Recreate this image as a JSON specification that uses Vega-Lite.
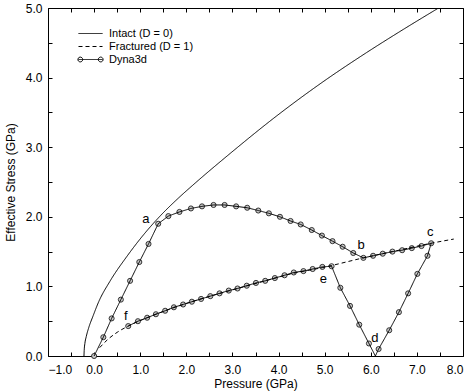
{
  "$schema": "https://vega.github.io/schema/vega-lite/v6.json",
  "autosize": "none",
  "width": 415,
  "height": 348,
  "padding": {"left": 48, "top": 8, "right": 11, "bottom": 35},
  "background": "white",
  "config": {
    "view": {"stroke": "#000", "strokeWidth": 1},
    "font": "Liberation Sans",
    "axis": {"grid": false, "domainColor": "#000", "tickColor": "#000", "labelColor": "#000", "titleColor": "#000", "labelFont": "Liberation Sans", "titleFont": "Liberation Sans", "titleFontWeight": "normal", "labelFontSize": 12, "titleFontSize": 12, "tickSize": -4}
  },
  "datasets": {
    "curves": [
      {"series": "Intact (D = 0)", "order": 1, "x": -0.22, "y": 0.0},
      {"series": "Intact (D = 0)", "order": 2, "x": -0.215, "y": 0.08},
      {"series": "Intact (D = 0)", "order": 3, "x": -0.2, "y": 0.18},
      {"series": "Intact (D = 0)", "order": 4, "x": -0.17, "y": 0.28},
      {"series": "Intact (D = 0)", "order": 5, "x": -0.12, "y": 0.4},
      {"series": "Intact (D = 0)", "order": 6, "x": -0.02, "y": 0.58},
      {"series": "Intact (D = 0)", "order": 7, "x": 0.1, "y": 0.78},
      {"series": "Intact (D = 0)", "order": 8, "x": 0.34, "y": 1.07},
      {"series": "Intact (D = 0)", "order": 9, "x": 0.71, "y": 1.43},
      {"series": "Intact (D = 0)", "order": 10, "x": 1.07, "y": 1.74},
      {"series": "Intact (D = 0)", "order": 11, "x": 1.43, "y": 2.01},
      {"series": "Intact (D = 0)", "order": 12, "x": 1.83, "y": 2.27},
      {"series": "Intact (D = 0)", "order": 13, "x": 2.15, "y": 2.46},
      {"series": "Intact (D = 0)", "order": 14, "x": 2.95, "y": 2.91},
      {"series": "Intact (D = 0)", "order": 15, "x": 3.96, "y": 3.45},
      {"series": "Intact (D = 0)", "order": 16, "x": 4.9, "y": 3.91},
      {"series": "Intact (D = 0)", "order": 17, "x": 5.91, "y": 4.36},
      {"series": "Intact (D = 0)", "order": 18, "x": 6.7, "y": 4.69},
      {"series": "Intact (D = 0)", "order": 19, "x": 7.47, "y": 5.0},
      {"series": "Fractured (D = 1)", "order": 1, "x": 0.12, "y": 0.12},
      {"series": "Fractured (D = 1)", "order": 2, "x": 0.3, "y": 0.24},
      {"series": "Fractured (D = 1)", "order": 3, "x": 0.5, "y": 0.34},
      {"series": "Fractured (D = 1)", "order": 4, "x": 0.74, "y": 0.43},
      {"series": "Fractured (D = 1)", "order": 5, "x": 1.15, "y": 0.55},
      {"series": "Fractured (D = 1)", "order": 6, "x": 1.54, "y": 0.65},
      {"series": "Fractured (D = 1)", "order": 7, "x": 1.93, "y": 0.74},
      {"series": "Fractured (D = 1)", "order": 8, "x": 2.52, "y": 0.86},
      {"series": "Fractured (D = 1)", "order": 9, "x": 3.11, "y": 0.97},
      {"series": "Fractured (D = 1)", "order": 10, "x": 3.71, "y": 1.08},
      {"series": "Fractured (D = 1)", "order": 11, "x": 4.33, "y": 1.19},
      {"series": "Fractured (D = 1)", "order": 12, "x": 4.95, "y": 1.27},
      {"series": "Fractured (D = 1)", "order": 13, "x": 5.15, "y": 1.3},
      {"series": "Fractured (D = 1)", "order": 14, "x": 5.84, "y": 1.41},
      {"series": "Fractured (D = 1)", "order": 15, "x": 6.47, "y": 1.5},
      {"series": "Fractured (D = 1)", "order": 16, "x": 7.31, "y": 1.62},
      {"series": "Fractured (D = 1)", "order": 17, "x": 7.8, "y": 1.68}
    ],
    "dyna": [
      {"series": "Dyna3d", "order": 1, "x": 0.0, "y": 0.0, "sampled": true},
      {"series": "Dyna3d", "order": 2, "x": 0.2, "y": 0.27, "sampled": true},
      {"series": "Dyna3d", "order": 3, "x": 0.38, "y": 0.54, "sampled": true},
      {"series": "Dyna3d", "order": 4, "x": 0.58, "y": 0.81, "sampled": true},
      {"series": "Dyna3d", "order": 5, "x": 0.78, "y": 1.08, "sampled": true},
      {"series": "Dyna3d", "order": 6, "x": 0.98, "y": 1.35, "sampled": true},
      {"series": "Dyna3d", "order": 7, "x": 1.18, "y": 1.61, "sampled": true},
      {"series": "Dyna3d", "order": 8, "x": 1.39, "y": 1.9, "sampled": true},
      {"series": "Dyna3d", "order": 9, "x": 1.61, "y": 2.01, "sampled": true},
      {"series": "Dyna3d", "order": 10, "x": 1.85, "y": 2.07, "sampled": true},
      {"series": "Dyna3d", "order": 11, "x": 2.1, "y": 2.12, "sampled": true},
      {"series": "Dyna3d", "order": 12, "x": 2.34, "y": 2.15, "sampled": true},
      {"series": "Dyna3d", "order": 13, "x": 2.59, "y": 2.17, "sampled": true},
      {"series": "Dyna3d", "order": 14, "x": 2.83, "y": 2.17, "sampled": true},
      {"series": "Dyna3d", "order": 15, "x": 3.08, "y": 2.15, "sampled": true},
      {"series": "Dyna3d", "order": 16, "x": 3.32, "y": 2.13, "sampled": true},
      {"series": "Dyna3d", "order": 17, "x": 3.56, "y": 2.09, "sampled": true},
      {"series": "Dyna3d", "order": 18, "x": 3.79, "y": 2.05, "sampled": true},
      {"series": "Dyna3d", "order": 19, "x": 4.03, "y": 2.0, "sampled": true},
      {"series": "Dyna3d", "order": 20, "x": 4.26, "y": 1.94, "sampled": true},
      {"series": "Dyna3d", "order": 21, "x": 4.48, "y": 1.89, "sampled": true},
      {"series": "Dyna3d", "order": 22, "x": 4.72, "y": 1.81, "sampled": true},
      {"series": "Dyna3d", "order": 23, "x": 4.94, "y": 1.73, "sampled": true},
      {"series": "Dyna3d", "order": 24, "x": 5.17, "y": 1.65, "sampled": true},
      {"series": "Dyna3d", "order": 25, "x": 5.39, "y": 1.57, "sampled": true},
      {"series": "Dyna3d", "order": 26, "x": 5.62, "y": 1.48, "sampled": true},
      {"series": "Dyna3d", "order": 27, "x": 5.84, "y": 1.41, "sampled": true},
      {"series": "Dyna3d", "order": 28, "x": 6.05, "y": 1.44, "sampled": true},
      {"series": "Dyna3d", "order": 29, "x": 6.26, "y": 1.47, "sampled": true},
      {"series": "Dyna3d", "order": 30, "x": 6.47, "y": 1.5, "sampled": true},
      {"series": "Dyna3d", "order": 31, "x": 6.68, "y": 1.52, "sampled": true},
      {"series": "Dyna3d", "order": 32, "x": 6.89, "y": 1.55, "sampled": true},
      {"series": "Dyna3d", "order": 33, "x": 7.1, "y": 1.58, "sampled": true},
      {"series": "Dyna3d", "order": 34, "x": 7.31, "y": 1.62, "sampled": true},
      {"series": "Dyna3d", "order": 35, "x": 7.23, "y": 1.44, "sampled": true},
      {"series": "Dyna3d", "order": 36, "x": 7.01, "y": 1.18, "sampled": true},
      {"series": "Dyna3d", "order": 37, "x": 6.81, "y": 0.9, "sampled": true},
      {"series": "Dyna3d", "order": 38, "x": 6.61, "y": 0.63, "sampled": true},
      {"series": "Dyna3d", "order": 39, "x": 6.4, "y": 0.37, "sampled": true},
      {"series": "Dyna3d", "order": 40, "x": 6.17, "y": 0.1, "sampled": true},
      {"series": "Dyna3d", "order": 41, "x": 6.1, "y": 0.0, "sampled": false},
      {"series": "Dyna3d", "order": 42, "x": 5.96, "y": 0.18, "sampled": true},
      {"series": "Dyna3d", "order": 43, "x": 5.75, "y": 0.45, "sampled": true},
      {"series": "Dyna3d", "order": 44, "x": 5.55, "y": 0.72, "sampled": true},
      {"series": "Dyna3d", "order": 45, "x": 5.34, "y": 0.98, "sampled": true},
      {"series": "Dyna3d", "order": 46, "x": 5.15, "y": 1.29, "sampled": true},
      {"series": "Dyna3d", "order": 47, "x": 4.95, "y": 1.28, "sampled": true},
      {"series": "Dyna3d", "order": 48, "x": 4.74, "y": 1.25, "sampled": true},
      {"series": "Dyna3d", "order": 49, "x": 4.54, "y": 1.22, "sampled": true},
      {"series": "Dyna3d", "order": 50, "x": 4.33, "y": 1.2, "sampled": true},
      {"series": "Dyna3d", "order": 51, "x": 4.13, "y": 1.16, "sampled": true},
      {"series": "Dyna3d", "order": 52, "x": 3.92, "y": 1.12, "sampled": true},
      {"series": "Dyna3d", "order": 53, "x": 3.71, "y": 1.08, "sampled": true},
      {"series": "Dyna3d", "order": 54, "x": 3.51, "y": 1.05, "sampled": true},
      {"series": "Dyna3d", "order": 55, "x": 3.31, "y": 1.01, "sampled": true},
      {"series": "Dyna3d", "order": 56, "x": 3.11, "y": 0.97, "sampled": true},
      {"series": "Dyna3d", "order": 57, "x": 2.92, "y": 0.94, "sampled": true},
      {"series": "Dyna3d", "order": 58, "x": 2.72, "y": 0.9, "sampled": true},
      {"series": "Dyna3d", "order": 59, "x": 2.52, "y": 0.86, "sampled": true},
      {"series": "Dyna3d", "order": 60, "x": 2.32, "y": 0.82, "sampled": true},
      {"series": "Dyna3d", "order": 61, "x": 2.12, "y": 0.78, "sampled": true},
      {"series": "Dyna3d", "order": 62, "x": 1.93, "y": 0.74, "sampled": true},
      {"series": "Dyna3d", "order": 63, "x": 1.73, "y": 0.7, "sampled": true},
      {"series": "Dyna3d", "order": 64, "x": 1.54, "y": 0.65, "sampled": true},
      {"series": "Dyna3d", "order": 65, "x": 1.34, "y": 0.6, "sampled": true},
      {"series": "Dyna3d", "order": 66, "x": 1.15, "y": 0.55, "sampled": true},
      {"series": "Dyna3d", "order": 67, "x": 0.95, "y": 0.5, "sampled": true},
      {"series": "Dyna3d", "order": 68, "x": 0.74, "y": 0.43, "sampled": true}
    ],
    "labels": [
      {"label": "a", "x": 1.12, "y": 1.97},
      {"label": "b", "x": 5.79, "y": 1.6},
      {"label": "c", "x": 7.29, "y": 1.78},
      {"label": "d", "x": 6.09, "y": 0.26},
      {"label": "e", "x": 4.97, "y": 1.1},
      {"label": "f", "x": 0.69, "y": 0.57}
    ]
  },
  "layer": [
    {
      "data": {"name": "dyna"},
      "transform": [{"filter": "datum.sampled"}],
      "mark": {"type": "point", "shape": "circle", "size": 26, "filled": true, "fill": "#c8c8c8", "stroke": "#222", "strokeWidth": 0.9, "opacity": 1},
      "encoding": {
        "x": {"field": "x", "type": "quantitative", "axis": null},
        "y": {"field": "y", "type": "quantitative", "axis": null}
      }
    },
    {
      "data": {"name": "curves"},
      "mark": {"type": "line", "interpolate": "monotone", "color": "#000", "strokeWidth": 1, "clip": true},
      "encoding": {
        "x": {"field": "x", "type": "quantitative", "scale": {"domain": [-1, 8], "nice": false, "zero": false},
          "axis": {"orient": "bottom", "title": "Pressure (GPa)", "values": [-1, -0.5, 0, 0.5, 1, 1.5, 2, 2.5, 3, 3.5, 4, 4.5, 5, 5.5, 6, 6.5, 7, 7.5, 8], "labelExpr": "datum.value % 1 === 0 ? format(datum.value, '.1f') : ''", "labelPadding": 12, "titlePadding": 3, "domain": false}},
        "y": {"field": "y", "type": "quantitative", "scale": {"domain": [0, 5], "nice": false},
          "axis": {"orient": "left", "title": "Effective Stress (GPa)", "values": [0, 0.5, 1, 1.5, 2, 2.5, 3, 3.5, 4, 4.5, 5], "labelExpr": "datum.value % 1 === 0 ? format(datum.value, '.1f') : ''", "labelPadding": 10, "titlePadding": 8, "domain": false}},
        "strokeDash": {"field": "series", "type": "nominal",
          "scale": {"domain": ["Intact (D = 0)", "Fractured (D = 1)", "Dyna3d"], "range": [[1, 0], [4, 3], [1, 0]]},
          "legend": {"orient": "none", "legendX": 36, "legendY": 19, "title": null, "symbolType": "M-2,0L2,0", "symbolSize": 144, "symbolStrokeColor": "#000", "symbolStrokeWidth": 1, "labelFont": "Liberation Sans", "labelFontSize": 11, "labelColor": "#000", "labelOffset": 12, "rowPadding": 1,
            "encode": {"symbols": {"update": {"shape": {"signal": "datum.value === 'Dyna3d' ? 'M-2,0L2,0M-1.3,0A0.4,0.4 0 1,0 -2.1,0A0.4,0.4 0 1,0 -1.3,0M2.1,0A0.4,0.4 0 1,0 1.3,0A0.4,0.4 0 1,0 2.1,0' : 'M-2,0L2,0'"}}}}}
        }
      }
    },
    {
      "data": {"name": "dyna"},
      "mark": {"type": "line", "interpolate": "linear", "color": "#000", "strokeWidth": 1},
      "encoding": {
        "x": {"field": "x", "type": "quantitative", "axis": null},
        "y": {"field": "y", "type": "quantitative", "axis": null},
        "order": {"field": "order", "type": "quantitative"},
        "strokeDash": {"field": "series", "type": "nominal"}
      }
    },
    {
      "data": {"name": "labels"},
      "mark": {"type": "text", "font": "Liberation Sans", "fontSize": 13, "fill": "#000"},
      "encoding": {
        "x": {"field": "x", "type": "quantitative",
          "axis": {"orient": "top", "title": null, "labels": false, "values": [-1, -0.5, 0, 0.5, 1, 1.5, 2, 2.5, 3, 3.5, 4, 4.5, 5, 5.5, 6, 6.5, 7, 7.5, 8], "domain": false}},
        "y": {"field": "y", "type": "quantitative",
          "axis": {"orient": "right", "title": null, "labels": false, "values": [0, 0.5, 1, 1.5, 2, 2.5, 3, 3.5, 4, 4.5, 5], "domain": false}},
        "text": {"field": "label", "type": "nominal"}
      }
    }
  ],
  "resolve": {"axis": {"x": "independent", "y": "independent"}}
}
